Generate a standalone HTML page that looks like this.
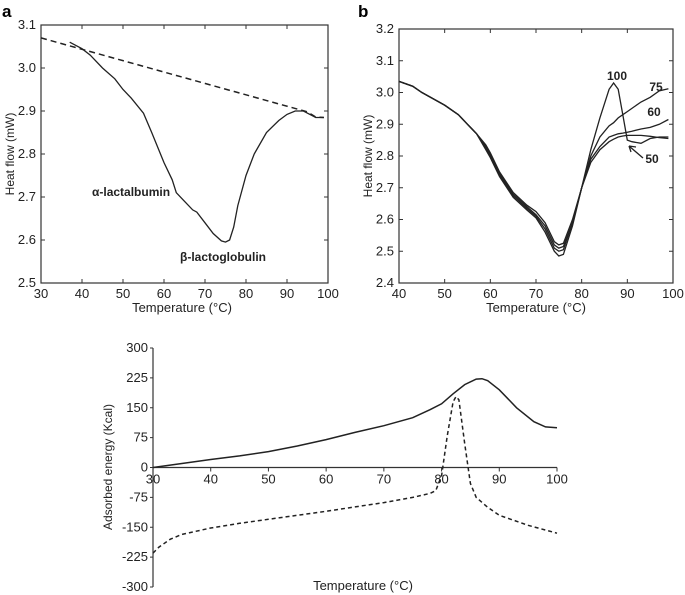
<!DOCTYPE html>
<html><head><meta charset="utf-8"><style>
body{margin:0;background:#fff}
svg{display:block;font-family:"Liberation Sans",Arial,sans-serif}
</style></head><body>
<svg id="fig" width="685" height="595" viewBox="0 0 685 595">
<text x="2" y="17" font-size="17" font-weight="bold">a</text>
<text x="358" y="17" font-size="17" font-weight="bold">b</text>
<g id="pa"></g>
<g id="pb"></g>
<g id="pc"></g>
</svg>
<script>
// Panel a data
const aSolidX=[37,40,42,45,48,50,52,55,57,60,62,63,65,67,68,70,72,74,75,76,77,78,80,82,85,88,90,92,94,96,97,99];
const aSolidY=[3.06,3.045,3.03,3.0,2.975,2.95,2.93,2.895,2.85,2.78,2.74,2.71,2.69,2.67,2.665,2.64,2.615,2.598,2.595,2.60,2.63,2.68,2.75,2.80,2.85,2.878,2.892,2.90,2.90,2.89,2.885,2.885];
const aDashX=[30,95,97,99];
const aDashY=[3.07,2.898,2.886,2.885];
const aXTicks=[30,40,50,60,70,80,90,100];
const aYTicks=[2.5,2.6,2.7,2.8,2.9,3.0,3.1];
// Panel b data
const bCommonX=[40,43,45,50,53,55,57];
const bCommonY=[3.035,3.02,3.0,2.96,2.93,2.90,2.87];
const bTailX=[59,60,62,65,68,70,72,74,75,76,78,80,82,84,86,87,88,89,90,91,93,95,97,99];
const b100=[2.82,2.795,2.735,2.67,2.63,2.605,2.56,2.50,2.485,2.49,2.58,2.70,2.82,2.92,3.01,3.03,3.01,2.93,2.85,2.845,2.84,2.855,2.86,2.86];
const b75=[2.825,2.80,2.74,2.675,2.635,2.61,2.57,2.51,2.50,2.505,2.59,2.70,2.80,2.86,2.895,2.905,2.92,2.93,2.94,2.95,2.97,2.985,3.005,3.012];
const b60=[2.83,2.805,2.745,2.68,2.64,2.615,2.58,2.52,2.51,2.515,2.59,2.70,2.79,2.83,2.86,2.865,2.87,2.872,2.875,2.878,2.885,2.89,2.90,2.915];
const b50=[2.835,2.81,2.75,2.685,2.645,2.625,2.59,2.53,2.52,2.525,2.60,2.70,2.78,2.82,2.845,2.853,2.86,2.863,2.865,2.865,2.865,2.862,2.858,2.855];
const bSeriesNames=["100","75","60","50"];
const bXTicks=[40,50,60,70,80,90,100];
const bYTicks=[2.4,2.5,2.6,2.7,2.8,2.9,3.0,3.1,3.2];
// Panel c data
const cSolidX=[30,35,40,45,50,55,60,65,70,75,78,80,82,84,86,87,88,90,93,96,98,100];
const cSolidY=[0,10,20,29,40,54,70,88,105,125,145,160,185,208,222,223,218,195,150,115,102,100];
const cDashX=[30,31,33,35,40,45,50,55,60,65,70,75,78,79,80,81,82,82.5,83,84,85,86,88,90,95,100];
const cDashY=[-215,-200,-180,-168,-152,-140,-130,-120,-110,-99,-88,-75,-65,-58,-20,80,165,178,170,60,-40,-75,-100,-120,-145,-165];
const cXTicks=[30,40,50,60,70,80,90,100];
const cYTicks=[-300,-225,-150,-75,0,75,150,225,300];

const NS="http://www.w3.org/2000/svg";
function mk(p,t,a){const e=document.createElementNS(NS,t);for(const k in a)e.setAttribute(k,a[k]);p.appendChild(e);return e;}
function path(xs,ys,sx,sy){return xs.map((x,i)=>(i?"L":"M")+sx(x).toFixed(1)+","+sy(ys[i]).toFixed(1)).join(" ");}
function lin(d0,d1,r0,r1){return v=>r0+(v-d0)*(r1-r0)/(d1-d0);}

// ---- Panel a
(function(){
const g=document.getElementById('pa');
const L=41,R=328,T=25,B=283;
const sx=lin(30,100,L,R), sy=lin(2.5,3.1,B,T);
let e=mk(g,'rect',{x:L,y:T,width:R-L,height:B-T,fill:'none',stroke:'#333','stroke-width':1.2});

aXTicks.forEach(v=>{const x=sx(v);
 mk(g,'line',{x1:x,x2:x,y1:B,y2:B-4,stroke:'#333'});mk(g,'line',{x1:x,x2:x,y1:T,y2:T+4,stroke:'#333'});
 const t=mk(g,'text',{x:x,y:B+15,'font-size':13,'text-anchor':'middle',fill:'#222'});t.textContent=v;
 });
aYTicks.forEach(v=>{const y=sy(v);
 mk(g,'line',{x1:L,x2:L+4,y1:y,y2:y,stroke:'#333'});mk(g,'line',{x1:R,x2:R-4,y1:y,y2:y,stroke:'#333'});
 const t=mk(g,'text',{x:L-5,y:y+4,'font-size':13,'text-anchor':'end',fill:'#222'});t.textContent=v.toFixed(1);
 });
e=mk(g,'path',{d:path(aDashX,aDashY,sx,sy),fill:'none',stroke:'#222','stroke-width':1.5,'stroke-dasharray':'6,4'});

e=mk(g,'path',{d:path(aSolidX,aSolidY,sx,sy),fill:'none',stroke:'#222','stroke-width':1.3});

e=mk(g,'text',{x:182,y:312,'font-size':13,'text-anchor':'middle',fill:'#222'});e.textContent='Temperature (°C)';

e=mk(g,'text',{x:14,y:154,'font-size':12,'text-anchor':'middle',fill:'#222',transform:'rotate(-90 14 154)'});e.textContent='Heat flow (mW)';

e=mk(g,'text',{x:92,y:196,'font-size':12,'font-weight':'bold',fill:'#222'});e.textContent='α-lactalbumin';

e=mk(g,'text',{x:180,y:261,'font-size':12,'font-weight':'bold',fill:'#222'});e.textContent='β-lactoglobulin';

})();

// ---- Panel b
(function(){
const g=document.getElementById('pb');
const L=399,R=673,T=29,B=283;
const sx=lin(40,100,L,R), sy=lin(2.4,3.2,B,T);
let e=mk(g,'rect',{x:L,y:T,width:R-L,height:B-T,fill:'none',stroke:'#333','stroke-width':1.2});

bXTicks.forEach(v=>{const x=sx(v);
 mk(g,'line',{x1:x,x2:x,y1:B,y2:B-4,stroke:'#333'});mk(g,'line',{x1:x,x2:x,y1:T,y2:T+4,stroke:'#333'});
 const t=mk(g,'text',{x:x,y:B+15,'font-size':13,'text-anchor':'middle',fill:'#222'});t.textContent=v;
 });
bYTicks.forEach(v=>{const y=sy(v);
 mk(g,'line',{x1:L,x2:L+4,y1:y,y2:y,stroke:'#333'});mk(g,'line',{x1:R,x2:R-4,y1:y,y2:y,stroke:'#333'});
 const t=mk(g,'text',{x:L-5,y:y+4,'font-size':13,'text-anchor':'end',fill:'#222'});t.textContent=v.toFixed(1);
 });
[b100,b75,b60,b50].forEach((ys,i)=>{
 const xs=bCommonX.concat(bTailX), yy=bCommonY.concat(ys);
 const p=mk(g,'path',{d:path(xs,yy,sx,sy),fill:'none',stroke:'#222','stroke-width':1.3});
 
 });
const lbl=[[617,80],[656,91],[654,116],[652,163]];
bSeriesNames.forEach((n,i)=>{const t=mk(g,'text',{x:lbl[i][0],y:lbl[i][1],'font-size':12,'font-weight':'bold','text-anchor':'middle',fill:'#222'});t.textContent=n;
 });
e=mk(g,'path',{d:'M643,158 L629,146 M629,146 L636,147 M629,146 L631,152',fill:'none',stroke:'#222','stroke-width':1.3});

e=mk(g,'text',{x:536,y:312,'font-size':13,'text-anchor':'middle',fill:'#222'});e.textContent='Temperature (°C)';

e=mk(g,'text',{x:372,y:156,'font-size':12,'text-anchor':'middle',fill:'#222',transform:'rotate(-90 372 156)'});e.textContent='Heat flow (mW)';

})();

// ---- Panel c
(function(){
const g=document.getElementById('pc');
const L=153,R=557,T=348,B=587;
const sx=lin(30,100,L,R), sy=lin(-300,300,B,T);
const y0=sy(0);
let e=mk(g,'line',{x1:L,x2:L,y1:T,y2:B,stroke:'#333','stroke-width':1.2});

e=mk(g,'line',{x1:L,x2:R,y1:y0,y2:y0,stroke:'#333','stroke-width':1.2});

cXTicks.forEach(v=>{const x=sx(v);
 mk(g,'line',{x1:x,x2:x,y1:y0,y2:y0+4,stroke:'#333'});
 const t=mk(g,'text',{x:x,y:y0+16,'font-size':13,'text-anchor':'middle',fill:'#222'});t.textContent=v;
 });
cYTicks.forEach(v=>{const y=sy(v);
 mk(g,'line',{x1:L-3,x2:L,y1:y,y2:y,stroke:'#333'});
 const t=mk(g,'text',{x:L-5,y:y+4,'font-size':13,'text-anchor':'end',fill:'#222'});t.textContent=v;
 });
e=mk(g,'path',{d:path(cSolidX,cSolidY,sx,sy),fill:'none',stroke:'#222','stroke-width':1.5});

e=mk(g,'path',{d:path(cDashX,cDashY,sx,sy),fill:'none',stroke:'#222','stroke-width':1.5,'stroke-dasharray':'4,3'});

e=mk(g,'text',{x:363,y:590,'font-size':13,'text-anchor':'middle',fill:'#222'});e.textContent='Temperature (°C)';

e=mk(g,'text',{x:112,y:467,'font-size':12,'text-anchor':'middle',fill:'#222',transform:'rotate(-90 112 467)'});e.textContent='Adsorbed energy (Kcal)';

})();
</script>
</body></html>
